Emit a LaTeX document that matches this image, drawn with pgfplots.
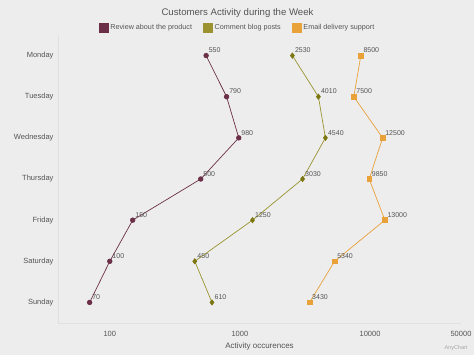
\documentclass[border=0pt]{standalone}
\usepackage{pgfplots}
\pgfplotsset{compat=1.18}
\usepackage{pgfplotstable}
\usepackage{fontspec}
\setmainfont{Liberation Sans}
\definecolor{bg}{HTML}{EDEDED}
\definecolor{txt}{HTML}{545454}
\definecolor{cA}{HTML}{6B3047}
\definecolor{cB}{HTML}{7D7712}
\definecolor{cBl}{HTML}{9A9330}
\definecolor{cC}{HTML}{E9A13A}
\pgfplotstableread{
x y lab
550 0 550
790 1 790
980 2 980
500 3 500
150 4 150
100 5 100
70 6 70
}\tA
\pgfplotstableread{
x y lab
2530 0 2530
4010 1 4010
4540 2 4540
3030 3 3030
1250 4 1250
450 5 450
610 6 610
}\tB
\pgfplotstableread{
x y lab
8500 0 8500
7500 1 7500
12500 2 12500
9850 3 9850
13000 4 13000
5340 5 5340
3430 6 3430
}\tC
\begin{document}
\begin{tikzpicture}[x=1pt,y=1pt]
\useasboundingbox (0,0) rectangle (474,355);
\fill[bg] (0,0) rectangle (474,355);
\begin{axis}[
  at={(58pt,32pt)}, anchor=south west,
  scale only axis, width=403pt, height=288pt,
  xmode=log, xmin=40, xmax=50000,
  xtick={100,1000,10000,50000},
  xticklabels={100,1000,10000,50000},
  ymin=-0.5, ymax=6.5, y dir=reverse,
  ytick={0,1,2,3,4,5,6},
  yticklabels={Monday,Tuesday,Wednesday,Thursday,Friday,Saturday,Sunday},
  axis x line*=bottom, axis y line*=left,
  axis line style={black!12, line width=0.6pt},
  tick style={draw=none},
  ticklabel style={font=\fontsize{7.5}{9}\selectfont, text=txt},
  yticklabel style={xshift=-1pt},
  xticklabel style={yshift=-5pt},
  xlabel={Activity occurences},
  xlabel style={font=\fontsize{8}{9}\selectfont, text=txt, yshift=1pt},
  title={Customers Activity during the Week},
  title style={font=\fontsize{9.6}{11}\selectfont, text=txt, yshift=7.5pt, xshift=-22pt},
  legend style={at={(0.5,1)}, anchor=south, yshift=-0.5pt, xshift=-22pt, draw=none, fill=none,
    legend columns=3, font=\fontsize{7.2}{9}\selectfont, text=txt,
    /tikz/every even column/.append style={column sep=9pt}},
  legend image code/.code={\fill[#1] (0pt,-4.5pt) rectangle (9pt,4.5pt);},
  nodes near coords={\pgfplotspointmeta},
  point meta=explicit symbolic,
  every node near coord/.append style={font=\fontsize{7}{8}\selectfont, text=txt, anchor=south west, xshift=-1pt, yshift=-1pt},
  clip=false,
]
\addplot[cA, line width=0.7pt, mark=*, mark size=2.3pt, mark options={fill=cA}] table[x=x,y=y,meta=lab]{\tA};
\addlegendentry{Review about the product}
\addplot[cBl, line width=0.7pt, mark=diamond*, mark size=2.6pt, mark options={fill=cB, draw=cB}] table[x=x,y=y,meta=lab]{\tB};
\addlegendentry{Comment blog posts}
\addplot[cC, line width=0.7pt, mark=square*, mark size=2.3pt, mark options={fill=cC}] table[x=x,y=y,meta=lab]{\tC};
\addlegendentry{Email delivery support}
\end{axis}
\node[font=\fontsize{5.5}{6}\selectfont, text=black!35, anchor=east] at (471,7) {AnyChart};
\end{tikzpicture}
\end{document}
